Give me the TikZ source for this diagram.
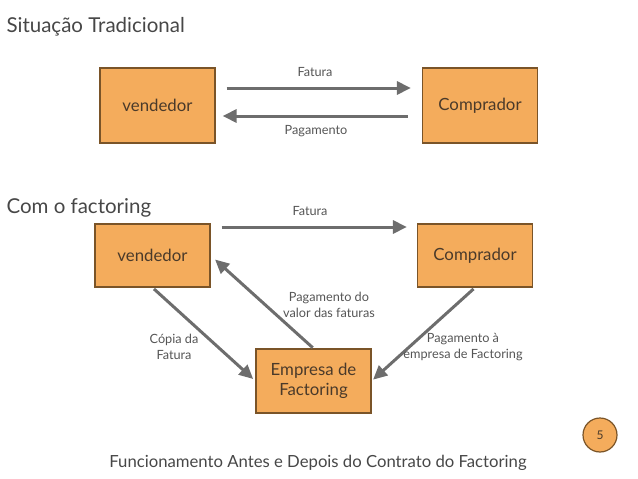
\documentclass[tikz,border=0pt]{standalone}
\usepackage{fontspec}
\setmainfont{Lato}
\usepackage{tikz}
\usetikzlibrary{positioning,arrows.meta,calc}
\definecolor{BoxOrange}{HTML}{F4AC5C}
\definecolor{BoxEdge}{HTML}{7A5428}
\definecolor{BoxText}{HTML}{4A3A2A}
\definecolor{ArrowGray}{HTML}{6D6D6D}
\definecolor{LabelGray}{HTML}{555555}
\tikzset{
  partybox/.style={draw=BoxEdge,fill=BoxOrange,line width=1.2pt,
    minimum width=115pt,minimum height=75pt,inner sep=2pt,
    font=\fontsize{16.8}{20}\selectfont\color{BoxText},align=center},
  flow/.style={line width=3pt,draw=ArrowGray,
    -{Triangle[length=14pt,width=13pt]}},
  lbl/.style={font=\fontsize{12.7}{15.5}\selectfont\color{LabelGray},align=center},
  heading/.style={font=\fontsize{20.5}{24}\selectfont\color{black!72},anchor=west},
}
\begin{document}
\begin{tikzpicture}[x=1pt,y=-1pt]
  \useasboundingbox (0,0) rectangle (638,479);
  % situacao tradicional
  \node[heading] (h1) at (3,27) {Situação Tradicional};
  \node[partybox] (v1) at (157.5,105.5) {vendedor};
  \node[partybox] (c1) at (480,105.5) {Comprador};
  \draw[flow,shorten <=11pt,shorten >=11pt] ($(v1.east)+(0,-17.5)$) -- ($(c1.west)+(0,-17.5)$);
  \draw[flow,shorten <=14pt,shorten >=7pt] ($(c1.west)+(0,10.5)$) -- ($(v1.east)+(0,10.5)$);
  \node[lbl] (l1) at (315,72) {Fatura};
  \node[lbl] (l2) at (316,131) {Pagamento};
  % com o factoring
  \node[heading] (h2) at (3,208) {Com o factoring};
  \node[partybox,minimum height=63pt] (v2) at (152.5,255.5) {vendedor};
  \node[partybox,minimum height=63pt] (c2) at (475,255.5) {Comprador};
  \node[partybox,minimum height=64pt] (emp) at (313.5,381) {Empresa de\\Factoring};
  \draw[flow,shorten <=11pt,shorten >=10pt] ($(v2.east)+(0,-28.5)$) -- ($(c2.west)+(0,-28.5)$);
  \draw[flow,shorten <=2pt,shorten >=3pt] (v2.south) -- (emp.west);
  \draw[flow,shorten <=1pt,shorten >=6pt] (emp.north) -- (v2.east);
  \draw[flow,shorten <=2pt,shorten >=2pt] (c2.south) -- (emp.east);
  \node[lbl] (l3) at (310,211) {Fatura};
  \node[lbl] (l4) at (174,347) {Cópia da\\Fatura};
  \node[lbl] (l5) at (329,305) {Pagamento do\\valor das faturas};
  \node[lbl] (l6) at (463,347) {Pagamento à\\empresa de Factoring};
  % rodape
  \node[circle,draw=BoxEdge,fill=BoxOrange,line width=1.2pt,minimum size=34pt,
    font=\fontsize{12}{14}\selectfont\color{BoxText}] (pg) at (600,435) {5};
  \node[font=\fontsize{16.7}{19}\selectfont\color{black!72}] (cap) at (318,463)
    {Funcionamento Antes e Depois do Contrato do Factoring};
\end{tikzpicture}
\end{document}
